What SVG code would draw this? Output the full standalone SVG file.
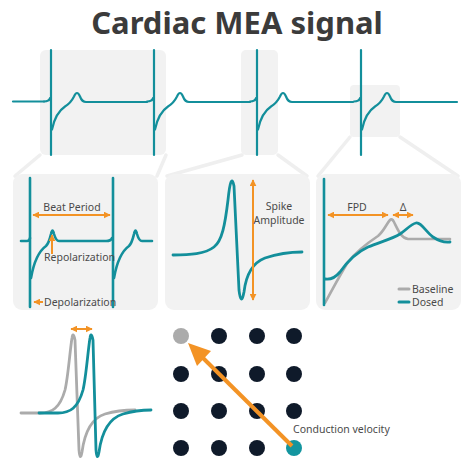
<svg xmlns="http://www.w3.org/2000/svg" width="474" height="474" viewBox="0 0 474 474">
<defs>
<style>
.bg{fill:#f2f2f2}
.wedge{stroke:#efefef;stroke-width:3.5;fill:none;stroke-linecap:round}
.teal{stroke:#138f9b;fill:none;stroke-linejoin:round;stroke-linecap:round}
.gray{stroke:#ababab;fill:none;stroke-linejoin:round;stroke-linecap:round}
.or{stroke:#f39325;stroke-width:2;fill:none}
.lbl{font-family:"Noto Sans","Liberation Sans",sans-serif;font-size:10.5px;fill:#4a4a4a}
.dot{fill:#0f1a2a}
</style>
<marker id="ah" viewBox="0 0 10 10" refX="9" refY="5" markerWidth="7" markerHeight="7" markerUnits="userSpaceOnUse" orient="auto-start-reverse">
<path d="M0,0 L10,5 L0,10 Z" fill="#f39325"/>
</marker>
<g id="beat">
<path class="teal" stroke-width="2.2" d="M-7,0 Q-2,0 -1,-3.5 L0,0 M1,28 C3,18 8,9 14,5 C19,2 21,-1 23,-5 Q26,-12 29,-5 Q31,0.5 35,0.5 L96,0.5"/>
<path class="teal" stroke-width="2.2" d="M0,-51.5 V53.5"/>
</g>
</defs>

<text x="237" y="34" text-anchor="middle" font-family="'Noto Sans','Liberation Sans',sans-serif" font-weight="700" font-size="31" fill="#3b3b3b">Cardiac MEA signal</text>

<g id="zoom-connectors">
<path class="wedge" d="M40,155 L15,176 M166,155 L157,176 M242,155 L167,176 M278,155 L307,176 M350,137 L318,176 M400,137 L458,176"/>
</g>

<g id="trace-top">
<rect class="bg" x="40" y="50" width="126" height="105" rx="6"/>
<rect class="bg" x="241" y="50" width="37" height="105" rx="5"/>
<rect class="bg" x="350" y="85" width="50" height="52" rx="4"/>
<path class="teal" stroke-width="2.2" d="M13,101.5 H44"/>
<use href="#beat" x="51" y="101.5"/>
<use href="#beat" x="154" y="101.5"/>
<use href="#beat" x="257" y="101.5"/>
<use href="#beat" x="361" y="101.5"/>
</g>

<g id="panel-beat-period">
<rect class="bg" x="13" y="174" width="145" height="136" rx="9"/>
<path class="teal" stroke-width="2.6" d="M21,241 H27 Q29.5,241 30,238 M31,278 C34,261 39,251 46,246 C49,243 50,238 51,234 Q52.5,227 54,234 Q56,241 59,241 L106,241 Q111,241 112,238 M114,278 C117,261 122,251 129,246 C132,243 133,238 134,234 Q135.5,227 137,234 Q139,241 142,241 L152,241"/>
<path class="teal" stroke-width="2.6" d="M30,178 V307 M113,178 V307"/>
<path class="or" d="M33,215 H110" marker-start="url(#ah)" marker-end="url(#ah)"/>
<text class="lbl" x="72" y="211" text-anchor="middle">Beat Period</text>
<path class="or" d="M52,254 V235" marker-end="url(#ah)"/>
<text class="lbl" x="44" y="261">Repolarization</text>
<path class="or" d="M43,302 H34" marker-end="url(#ah)"/>
<text class="lbl" x="44" y="306">Depolarization</text>
</g>

<g id="panel-spike-amplitude">
<rect class="bg" x="165" y="174" width="145" height="136" rx="9"/>
<path class="teal" stroke-width="2.8" d="M173,255 C190,255 205,254 214,247 C222,241 225,225 228,200 Q231,171 234,186 L239,290 Q241,307 244,292 C246,275 252,263 265,258 C280,253 292,252 302,252"/>
<path class="or" d="M253,180 V300" marker-start="url(#ah)" marker-end="url(#ah)"/>
<text class="lbl" x="279" y="210" text-anchor="middle">Spike</text>
<text class="lbl" x="279" y="224" text-anchor="middle">Amplitude</text>
</g>

<g id="panel-fpd">
<rect class="bg" x="316" y="174" width="145" height="136" rx="9"/>
<path class="gray" stroke-width="2.6" d="M325,303 C332,290 340,275 348,262 C356,252 366,244 378,236 C384,231 387,223 390,220 Q392,218 394,222 C398,230 401,238 408,239 L450,239"/>
<path class="teal" stroke-width="2.8" d="M325,279 C331,280 335,278 340,272 C347,262 355,253 368,247 C380,242 392,239 400,234 C406,230 411,224 416,223 C421,222 426,232 433,237 C439,241 444,243 450,242"/>
<path class="teal" stroke-width="2.6" d="M324,179 V305"/>
<path class="or" d="M328,215 H388" marker-start="url(#ah)" marker-end="url(#ah)"/>
<path class="or" d="M393,215 H413" marker-start="url(#ah)" marker-end="url(#ah)"/>
<text class="lbl" x="357" y="211" text-anchor="middle">FPD</text>
<text class="lbl" x="403" y="211" text-anchor="middle">Δ</text>
<path class="gray" stroke-width="3" d="M399,289 H409"/>
<text class="lbl" x="412" y="293">Baseline</text>
<path class="teal" stroke-width="3" d="M399,302 H409"/>
<text class="lbl" x="412" y="306">Dosed</text>
</g>

<g id="panel-shift">
<path class="gray" stroke-width="2.8" d="M21,413 L40,413 C52,413 60,408 65,390 C68,378 70,350 72,338 Q73,331 75,340 L79,450 Q80,462 82,452 C85,430 92,418 105,414 C115,411 125,410 135,410"/>
<path class="teal" stroke-width="2.8" d="M39,413 L58,413 C70,413 78,408 83,390 C86,378 88,350 90,338 Q91,331 93,340 L96,450 Q97,462 99,452 C102,430 110,418 123,414 C133,411 143,410 151,410"/>
<path class="or" d="M71,329 H92" marker-start="url(#ah)" marker-end="url(#ah)"/>
</g>

<g id="electrode-grid">
<circle cx="181" cy="336" r="8" fill="#ababab"/>
<circle class="dot" cx="219" cy="336" r="8"/>
<circle class="dot" cx="257" cy="336" r="8"/>
<circle class="dot" cx="294" cy="336" r="8"/>
<circle class="dot" cx="181" cy="374" r="8"/>
<circle class="dot" cx="219" cy="374" r="8"/>
<circle class="dot" cx="257" cy="374" r="8"/>
<circle class="dot" cx="294" cy="374" r="8"/>
<circle class="dot" cx="181" cy="411" r="8"/>
<circle class="dot" cx="219" cy="411" r="8"/>
<circle class="dot" cx="257" cy="411" r="8"/>
<circle class="dot" cx="294" cy="411" r="8"/>
<circle class="dot" cx="181" cy="448" r="8"/>
<circle class="dot" cx="219" cy="448" r="8"/>
<circle class="dot" cx="257" cy="448" r="8"/>
<circle cx="294" cy="448" r="8" fill="#13959f"/>
<path d="M292,446 L202,357" stroke="#f39325" stroke-width="4" fill="none"/>
<polygon points="188,343 211,351 197,366" fill="#f39325"/>
<text class="lbl" x="293" y="433">Conduction velocity</text>
</g>
</svg>
